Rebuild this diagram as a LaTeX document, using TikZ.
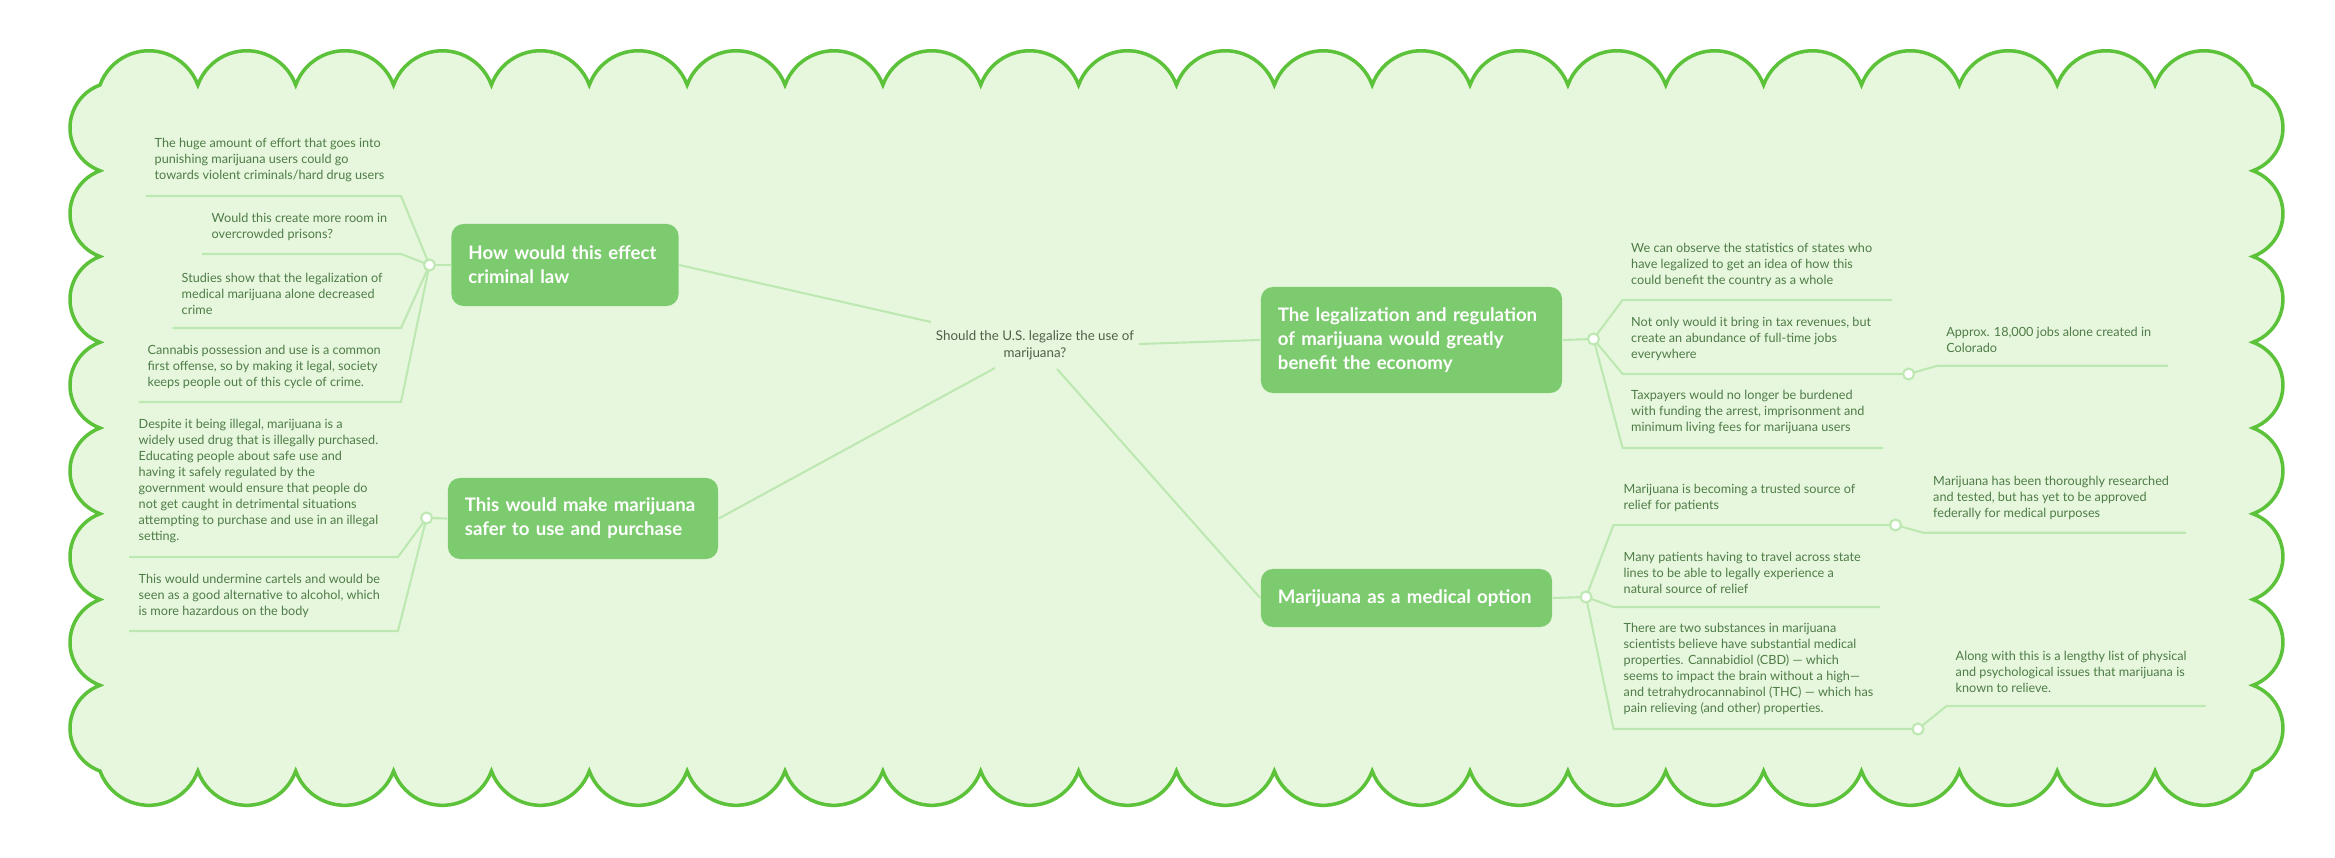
\documentclass[tikz,border=0pt]{standalone}
\usepackage{fontspec}
\setmainfont{Lato}
\definecolor{cloudfill}{HTML}{E7F7DE}
\definecolor{clouddraw}{HTML}{5CC23A}
\definecolor{boxc}{HTML}{7DCB6F}
\definecolor{linec}{HTML}{BDE8B2}
\definecolor{leafc}{HTML}{4E7C46}
\definecolor{centc}{HTML}{4F5F4A}
\tikzset{
 leaf/.style={anchor=south west,inner sep=0pt,align=left,text=leafc,font=\fontsize{3.6}{4.55}\selectfont},
 topic/.style={fill=boxc,rounded corners=0.12cm,text=white,align=left,inner ysep=0pt,inner xsep=0.17cm,font=\fontsize{5.3}{6.8}\selectfont\bfseries},
 conn/.style={draw=linec,line width=0.6pt},
 junc/.style={circle,draw=linec,fill=white,line width=0.6pt,minimum size=0.11cm,inner sep=0pt}
}
\begin{document}
\begin{tikzpicture}[x=0.01cm,y=-0.01cm]
\useasboundingbox (0,0) rectangle (2335,858);
% cloud
\draw[fill=cloudfill,draw=clouddraw,line width=1pt] (100,85)
 \foreach \i in {1,...,22}{ arc[start angle=200,end angle=340,radius=52.07] }
 \foreach \i in {1,...,8}{ arc[start angle=-70,end angle=70,radius=45.63] }
 \foreach \i in {1,...,22}{ arc[start angle=20,end angle=160,radius=52.07] }
 \foreach \i in {1,...,8}{ arc[start angle=110,end angle=250,radius=45.63] } -- cycle;
% central
\node[align=center,text=centc,inner sep=1pt,font=\fontsize{3.8}{4.8}\selectfont] (c) at (1035,345) {Should the U.S. legalize the use of\\marijuana?};
% topics
\node[topic,minimum width=2.27cm,minimum height=0.82cm,text width=1.93cm] (t1) at (565,265) {How would this effect\\criminal law};
\node[topic,minimum width=2.70cm,minimum height=0.81cm,text width=2.36cm] (t2) at (583,518.5) {This would make marijuana\\safer to use and purchase};
\node[topic,minimum width=3.01cm,minimum height=1.06cm,text width=2.67cm] (t3) at (1411.5,340) {The legalization and regulation\\of marijuana would greatly\\benefit the economy};
\node[topic,minimum width=2.91cm,minimum height=0.58cm,text width=2.57cm] (t4) at (1406.5,598) {Marijuana as a medical option};
% central connectors
\coordinate (c1) at (931,322); \coordinate (c2) at (995,368);
\coordinate (c3) at (1139,344); \coordinate (c4) at (1057,369);
\draw[conn] (c1) -- (t1.east);
\draw[conn] (c2) -- (t2.east);
\draw[conn] (c3) -- (t3.west);
\draw[conn] (c4) -- (t4.west);
% junctions
\coordinate (j1) at (429.5,265); \coordinate (j2) at (426.6,518);
\coordinate (j3) at (1593.5,339); \coordinate (j4) at (1586,597);
\coordinate (j5) at (1908.6,374); \coordinate (j6) at (1895.5,525); \coordinate (j7) at (1918,729);
\draw[conn] (t1.west) -- (j1); \draw[conn] (t2.west) -- (j2);
\draw[conn] (t3.east) -- (j3); \draw[conn] (t4.east) -- (j4);
% left leaves
\node[leaf] (l1) at (154,183) {The huge amount of effort that goes into\\punishing marijuana users could go\\towards violent criminals/hard drug users};
\node[leaf] (l2) at (211,241) {Would this create more room in\\overcrowded prisons?};
\node[leaf] (l3) at (181,315) {Studies show that the legalization of\\medical marijuana alone decreased\\crime};
\node[leaf] (l4) at (147,389) {Cannabis possession and use is a common\\first offense, so by making it legal, society\\keeps people out of this cycle of crime.};
\node[leaf] (l5) at (138,544) {Despite it being illegal, marijuana is a\\widely used drug that is illegally purchased.\\Educating people about safe use and\\having it safely regulated by the\\government would ensure that people do\\not get caught in detrimental situations\\attempting to purchase and use in an illegal\\setting.};
\node[leaf] (l6) at (138,618) {This would undermine cartels and would be\\seen as a good alternative to alcohol, which\\is more hazardous on the body};
\coordinate (l1a) at (145.6,196); \coordinate (l1b) at (401,196);
\coordinate (l2a) at (202,254); \coordinate (l2b) at (401,254);
\coordinate (l3a) at (172.5,328); \coordinate (l3b) at (401,328);
\coordinate (l4a) at (138.5,402); \coordinate (l4b) at (401,402);
\coordinate (l5a) at (129,557); \coordinate (l5b) at (398,557);
\coordinate (l6a) at (129,631); \coordinate (l6b) at (398,631);
\draw[conn] (j1) -- (l1b) -- (l1a);
\draw[conn] (j1) -- (l2b) -- (l2a);
\draw[conn] (j1) -- (l3b) -- (l3a);
\draw[conn] (j1) -- (l4b) -- (l4a);
\draw[conn] (j2) -- (l5b) -- (l5a);
\draw[conn] (j2) -- (l6b) -- (l6a);
% right leaves
\node[leaf] (r1) at (1630.5,287) {We can observe the statistics of states who\\have legalized to get an idea of how this\\could benefit the country as a whole};
\node[leaf] (r2) at (1630.5,361) {Not only would it bring in tax revenues, but\\create an abundance of full-time jobs\\everywhere};
\node[leaf] (r2a) at (1945.6,353) {Approx. 18,000 jobs alone created in\\Colorado};
\node[leaf] (r3) at (1630.5,435) {Taxpayers would no longer be burdened\\with funding the arrest, imprisonment and\\minimum living fees for marijuana users};
\node[leaf] (m1) at (1623,512) {Marijuana is becoming a trusted source of\\relief for patients};
\node[leaf] (m1a) at (1932.5,520) {Marijuana has been thoroughly researched\\and tested, but has yet to be approved\\federally for medical purposes};
\node[leaf] (m2) at (1623,594) {Many patients having to travel across state\\lines to be able to legally experience a\\natural source of relief};
\node[leaf] (m3) at (1623,716) {There are two substances in marijuana\\scientists believe have substantial medical\\properties. Cannabidiol (CBD) — which\\seems to impact the brain without a high—\\and tetrahydrocannabinol (THC) — which has\\pain relieving (and other) properties.};
\node[leaf] (m3a) at (1955,693) {Along with this is a lengthy list of physical\\and psychological issues that marijuana is\\known to relieve.};
\coordinate (r1a) at (1622.6,300); \coordinate (r1b) at (1892,300);
\coordinate (r2a0) at (1622.6,374);
\coordinate (r2aa) at (1937.7,365.7); \coordinate (r2ab) at (2168,365.7);
\coordinate (r3a) at (1622.6,448); \coordinate (r3b) at (1883,448);
\coordinate (m1s) at (1613.5,525);
\coordinate (m1aa) at (1923,532.7); \coordinate (m1ab) at (2186,532.7);
\coordinate (m2a) at (1613.5,607); \coordinate (m2b) at (1880,607);
\coordinate (m3s) at (1613.5,729);
\coordinate (m3aa) at (1946.5,706); \coordinate (m3ab) at (2205.5,706);
\draw[conn] (j3) -- (r1a) -- (r1b);
\draw[conn] (j3) -- (r2a0) -- (j5) -- (r2aa) -- (r2ab);
\draw[conn] (j3) -- (r3a) -- (r3b);
\draw[conn] (j4) -- (m1s) -- (j6) -- (m1aa) -- (m1ab);
\draw[conn] (j4) -- (m2a) -- (m2b);
\draw[conn] (j4) -- (m3s) -- (j7) -- (m3aa) -- (m3ab);
\foreach \j in {j1,j2,j3,j4,j5,j6,j7}{ \node[junc] at (\j) {}; }
\end{tikzpicture}
\end{document}
